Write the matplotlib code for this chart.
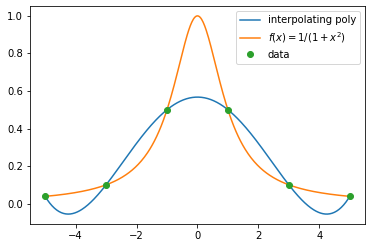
import numpy as np
import matplotlib
matplotlib.use("Agg")
import matplotlib.pyplot as plt

# sample points
data_x = [-5, -3, -1, 1, 3, 5]
data_y = [0.038, 0.1, 0.5, 0.5, 0.1, 0.038]


def f(x):
    return 1 / (1 + x**2)


if __name__ == "__main__":
    coeffs = np.polyfit(data_x, data_y, len(data_x) - 1)
    xx = np.linspace(-5, 5, 400)

    fig = plt.figure(figsize=(372 / 72, 248 / 72), dpi=72)
    ax = fig.add_axes([0.0806, 0.0968, 0.9004, 0.879])
    ax.plot(xx, np.polyval(coeffs, xx), label="interpolating poly")
    ax.plot(xx, f(xx), label=r"$f(x) = 1/(1+x^2)$")
    ax.plot(data_x, data_y, "o", label="data")
    ax.legend(loc="upper right")

    fig.savefig("out.png", dpi=72)
